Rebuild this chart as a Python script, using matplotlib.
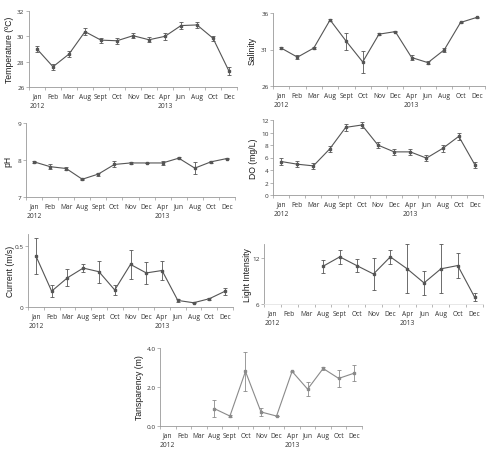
import numpy as np
import matplotlib
matplotlib.use("Agg")
import matplotlib.pyplot as plt
from matplotlib.ticker import FixedLocator, NullFormatter

plt.rcParams['font.family'] = ['Open Sans', 'DejaVu Sans']

# -------------------------------
# Sampling months (Jan 2012 - Dec 2013)
# -------------------------------
months = ["Jan", "Feb", "Mar", "Aug", "Sept", "Oct", "Nov", "Dec",
          "Apr", "Jun", "Aug", "Oct", "Dec"]
years = {0: "2012", 8: "2013"}

# -------------------------------
# Values (mean and error)
# None means no measurement that month
# -------------------------------
temp = [29.0, 27.6, 28.6, 30.37, 29.7, 29.65, 30.05, 29.73, 30.0, 30.85, 30.9, 29.85, 27.25]
temp_err = [0.25, 0.25, 0.25, 0.25, 0.2, 0.25, 0.2, 0.2, 0.25, 0.25, 0.25, 0.2, 0.3]

salinity = [31.2, 29.95, 31.2, 35.05, 32.1, 29.3, 33.1, 33.45, 29.9, 29.2, 30.95, 34.7, 35.4]
salinity_err = [0.1, 0.3, 0.1, 0.1, 1.1, 1.5, 0.1, 0.1, 0.3, 0.2, 0.3, 0.1, 0.1]

ph = [7.95, 7.82, 7.77, 7.48, 7.62, 7.88, 7.92, 7.92, 7.92, 8.05, 7.78, 7.95, 8.04]
ph_err = [0.03, 0.06, 0.04, 0.02, 0.04, 0.08, 0.02, 0.01, 0.05, 0.03, 0.17, 0.02, 0.02]

do = [5.36, 4.93, 4.66, 7.34, 10.82, 11.2, 7.98, 6.9, 6.9, 5.9, 7.45, 9.38, 4.82]
do_err = [0.5] * 13

current = [0.42, 0.13, 0.24, 0.32, 0.29, 0.14, 0.35, 0.28, 0.30, 0.054, 0.035, 0.068, 0.13]
current_err = [0.15, 0.05, 0.07, 0.03, 0.09, 0.04, 0.12, 0.09, 0.08, 0.01, 0.005, 0.01, 0.03]

light = [None, None, None, 10.9, 12.13, 11.0, 9.9, 12.13, 10.57, 8.74, 10.57, 11.0, 6.9]
light_err = [None, None, None, 0.87, 0.95, 0.9, 2.1, 0.9, 3.2, 1.6, 3.2, 1.6, 0.5]

transp = [None, None, None, 0.89, 0.51, 2.8, 0.72, 0.51, 2.8, 1.89, 2.95, 2.44, 2.71]
transp_err = [None, None, None, 0.42, 0.03, 0.98, 0.2, 0.02, 0.03, 0.35, 0.1, 0.45, 0.4]


def px_box(left, right, top, bottom, W=492, H=456):
    # convert pixel box (top origin) into figure fraction rect
    return [left / W, 1 - bottom / H, (right - left) / W, (bottom - top) / H]


def draw_panel(fig, box, vals, errs, ylabel, label_x, ylim, yticks, ytick_labels=None,
               color="#555555", show_xaxis=True):
    ax = fig.add_axes(px_box(*box))
    x = np.arange(len(months))
    v = np.array([np.nan if a is None else a for a in vals], dtype=float)
    e = np.array([np.nan if a is None else a for a in errs], dtype=float)
    ok = ~np.isnan(v)
    ax.errorbar(x[ok], v[ok], yerr=e[ok], color=color, ecolor=color,
                linewidth=0.8, elinewidth=0.6, capsize=1.5, capthick=0.6,
                marker="s", markersize=1.8, markerfacecolor=color,
                markeredgecolor=color)
    ax.set_xlim(-0.5, len(months) - 0.5)
    ax.set_ylim(*ylim)

    labels = [m + ("\n" + years[i] if i in years else "") for i, m in enumerate(months)]
    ax.set_xticks(x)
    ax.set_xticklabels(labels, fontsize=4.8, color="#333333", linespacing=1.4)
    ax.tick_params(axis="x", which="major", length=0, pad=4)
    ax.xaxis.set_minor_locator(FixedLocator(np.arange(-0.5, len(months), 1.0)))
    ax.xaxis.set_minor_formatter(NullFormatter())
    ax.tick_params(axis="x", which="minor", length=2.5, width=0.5,
                   color="#999999", direction="out")

    ax.set_yticks(yticks)
    if ytick_labels is not None:
        ax.set_yticklabels(ytick_labels)
    ax.tick_params(axis="y", labelsize=4.6, labelcolor="#333333", length=2,
                   width=0.5, color="#999999", direction="out", pad=1.2)

    # y label centred on the pixel column where it sits in the original
    ax.set_ylabel(ylabel, fontsize=6.2, color="#1a1a1a", va="center",
                  family=["Liberation Sans Narrow", "Liberation Sans", "DejaVu Sans"])
    left, right = box[0], box[1]
    ax.yaxis.set_label_coords((label_x - left) / (right - left), 0.5)

    for side in ["top", "right"]:
        ax.spines[side].set_visible(False)
    ax.spines["left"].set_color("#999999")
    ax.spines["left"].set_linewidth(0.6)
    ax.spines["bottom"].set_color("#999999" if show_xaxis else "#e4e4e4")
    ax.spines["bottom"].set_linewidth(0.6)
    return ax


fig = plt.figure(figsize=(4.92, 4.56), dpi=100)

draw_panel(fig, (29, 237, 12, 88), temp, temp_err, "Temperature (ºC)", 10,
           (26, 32), [26, 28, 30, 32])
draw_panel(fig, (273, 485, 14, 87), salinity, salinity_err, "Salinity", 252,
           (26, 36), [26, 31, 36])
draw_panel(fig, (26, 235, 124, 198), ph, ph_err, "pH", 8,
           (7, 9), [7, 8, 9])
draw_panel(fig, (273, 483, 121, 196), do, do_err, "DO (mg/L)", 253,
           (0, 12), [0, 2, 4, 6, 8, 10, 12])
draw_panel(fig, (28, 233, 235, 308), current, current_err, "Current (m/s)", 11,
           (0, 0.6), [0, 0.5], ["0", "0.5"])
draw_panel(fig, (264, 483, 245, 305), light, light_err, "Light Intensity", 248,
           (6, 13.8), [6, 12], show_xaxis=False)
draw_panel(fig, (160, 362, 349, 427), transp, transp_err, "Tansparency (m)", 140,
           (0, 4), [0, 2, 4], ["0.0", "2.0", "4.0"], color="#8a8a8a")

fig.savefig("out.png", dpi=100)
